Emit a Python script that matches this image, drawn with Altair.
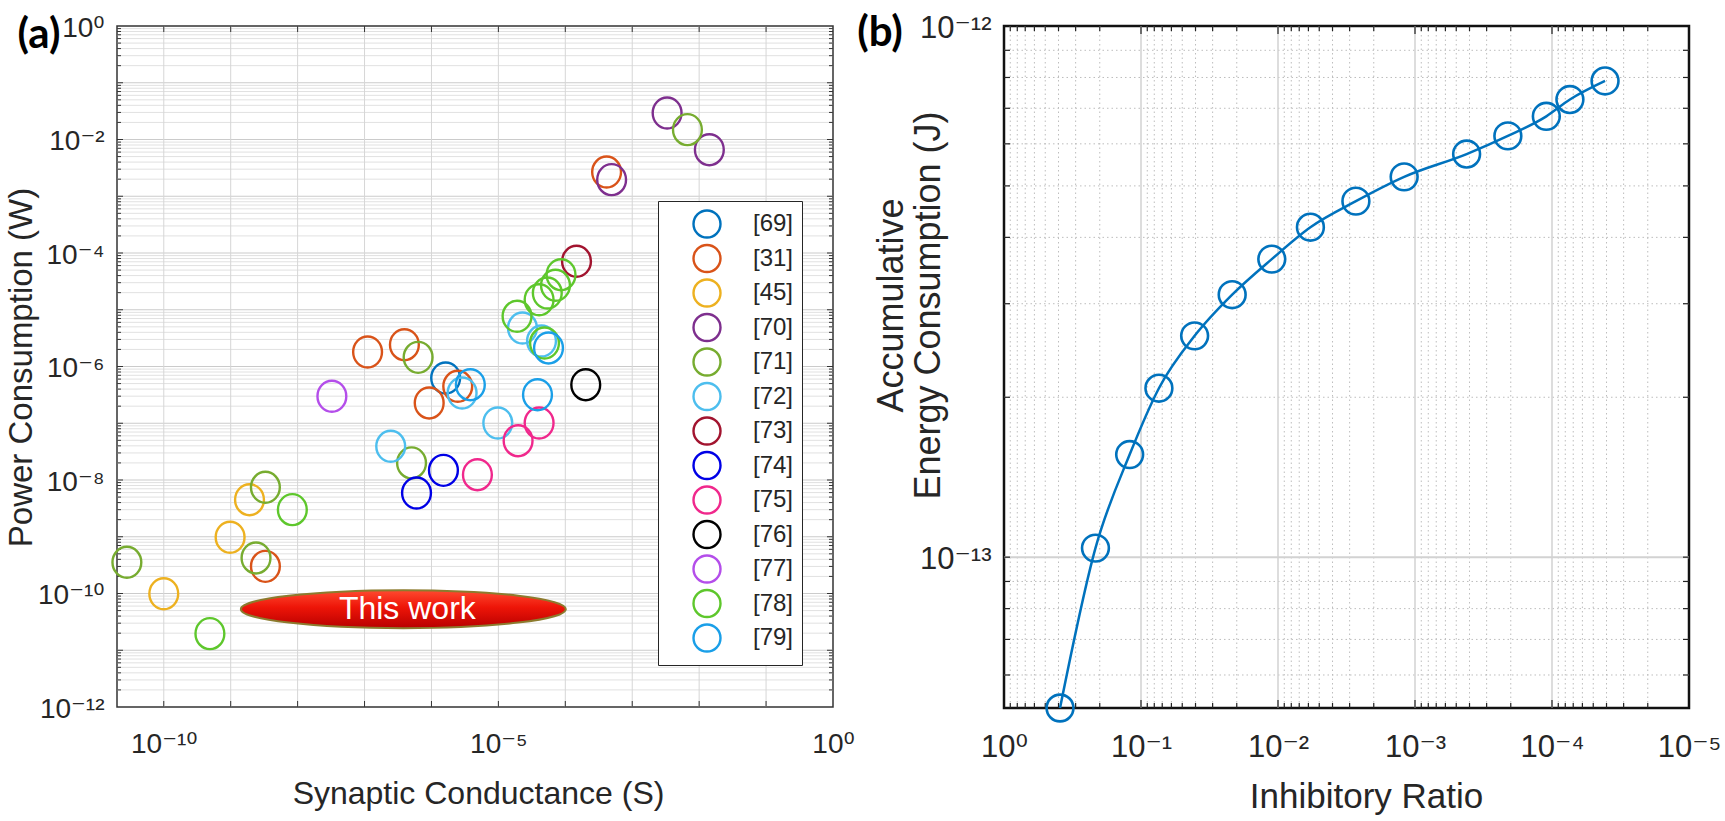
import altair as alt
import pandas as pd

FONT = "Liberation Sans, Arial, DejaVu Sans"
TXT = "#262626"

# ---------------- Panel (a) data ----------------
refs = ["[69]", "[31]", "[45]", "[70]", "[71]", "[72]", "[73]", "[74]",
        "[75]", "[76]", "[77]", "[78]", "[79]"]
ref_colors = ["#0072BD", "#D95319", "#EDB120", "#7E2F8E", "#77AC30", "#4DBEEE",
              "#A2142F", "#0000E6", "#F0288C", "#000000", "#B44EEA", "#5EC72C", "#1A9FE8"]

point_ref = ["[69]",
             "[31]", "[31]", "[31]", "[31]", "[31]", "[31]",
             "[45]", "[45]", "[45]",
             "[70]", "[70]", "[70]",
             "[71]", "[71]", "[71]", "[71]", "[71]", "[71]",
             "[72]", "[72]", "[72]", "[72]", "[72]",
             "[73]",
             "[74]", "[74]",
             "[75]", "[75]", "[75]",
             "[76]",
             "[77]",
             "[78]", "[78]", "[78]", "[78]", "[78]", "[78]", "[78]", "[78]",
             "[79]", "[79]", "[79]"]
conductance = [1.63e-6,
               4.14e-4, 1.11e-7, 3.94e-7, 2.47e-6, 9.25e-7, 3.30e-9,
               1.91e-9, 9.8e-10, 1.0e-10,
               3.32e-3, 1.42e-2, 4.92e-4,
               6.68e-3, 6.32e-7, 5.04e-7, 3.30e-9, 2.39e-9, 2.81e-11,
               2.29e-5, 4.41e-5, 2.87e-6, 9.8e-6, 2.46e-7,
               1.47e-4,
               1.51e-6, 5.98e-7,
               4.06e-5, 1.97e-5, 4.86e-6,
               2.02e-4,
               3.25e-8,
               8.63e-5, 7.13e-5, 5.38e-5, 4.06e-5, 1.90e-5, 4.89e-5, 8.34e-9, 4.89e-10,
               3.81e-6, 5.61e-5, 3.84e-5]
power = [6.27e-7,
         2.67e-3, 1.80e-6, 2.42e-6, 4.48e-7, 2.28e-7, 3.01e-10,
         4.50e-9, 9.8e-10, 9.9e-11,
         2.93e-2, 6.61e-3, 1.96e-3,
         1.49e-2, 1.45e-6, 2.0e-8, 7.43e-9, 4.23e-10, 3.55e-10,
         4.76e-6, 2.81e-6, 3.41e-7, 1.01e-7, 3.93e-8,
         7.14e-5,
         1.48e-8, 5.90e-9,
         1.01e-7, 4.93e-8, 1.24e-8,
         4.78e-7,
         2.99e-7,
         4.15e-5, 2.70e-5, 1.97e-5, 1.50e-5, 7.67e-6, 2.59e-6, 3.00e-9, 1.96e-11,
         4.78e-7, 2.12e-6, 3.18e-7]

this_work_label = ["This work"]
this_work_G = [3.8e-7]
this_work_P = [5.3e-11]

# axis tick / grid values of panel (a)
A_x_domain = [2.0e-11, 1.0]
A_y_domain = [1e-12, 1.0]
A_x_label_vals = [1e-10, 1e-5, 1.0]
A_y_label_vals = [1.0, 1e-2, 1e-4, 1e-6, 1e-8, 1e-10, 1e-12]
A_x_decades = [10.0 ** e for e in range(-10, 1)]
A_y_decades = [10.0 ** e for e in range(-12, 1)]
A_y_minor = [m * 10.0 ** e for e in range(-12, 0) for m in range(2, 10)]

# ---------------- Panel (b) data ----------------
inhibitory_ratio = [0.39, 0.215, 0.121, 0.074, 0.0406, 0.0216, 0.0111, 0.0058,
                    0.0027, 0.0012, 4.2e-4, 2.1e-4, 1.1e-4, 7.4e-5, 4.1e-5]
energy = [5.2e-14, 1.04e-13, 1.56e-13, 2.08e-13, 2.61e-13, 3.12e-13, 3.64e-13,
          4.18e-13, 4.68e-13, 5.2e-13, 5.74e-13, 6.21e-13, 6.76e-13, 7.27e-13, 7.88e-13]

B_x_domain = [1e-5, 1.0]
B_y_domain = [5.2e-14, 1e-12]
B_x_label_vals = [1.0, 1e-1, 1e-2, 1e-3, 1e-4, 1e-5]
B_y_label_vals = [1e-13, 1e-12]
B_x_decades = [10.0 ** e for e in range(-5, 1)]
B_x_minor = [m * 10.0 ** e for e in range(-5, 0) for m in range(2, 10)]
B_y_major = [1e-13, 1e-12]
B_y_minor = [6e-14, 7e-14, 8e-14, 9e-14] + [m * 1e-13 for m in range(2, 10)]

# ---------------- helpers ----------------
SUP = "['\u2070','\u00b9','\u00b2','\u00b3','\u2074','\u2075','\u2076','\u2077','\u2078','\u2079']"
EXP = "round(log(datum.value)/LN10)"
POW_LABEL = ("'10' + (" + EXP + " < 0 ? '\u207b' : '') + (abs(" + EXP + ") >= 10 ? "
             + SUP + "[floor(abs(" + EXP + ")/10)] : '') + " + SUP + "[abs(" + EXP + ") % 10]")

ELLIPSE = "M -0.93 0 A 0.93 1 0 1 1 0.93 0 A 0.93 1 0 1 1 -0.93 0 Z"
FLAT_ELLIPSE = "M -1 0 A 1 0.117 0 1 1 1 0 A 1 0.117 0 1 1 -1 0 Z"


def vals(v):
    return pd.DataFrame({"v": v})


# helper layers leave the axis unspecified so the explicit axis of the data layer wins
def hrules(values, scale, **kw):
    return alt.Chart(vals(values)).mark_rule(**kw).encode(y=alt.Y("v:Q", scale=scale))


def vrules(values, scale, **kw):
    return alt.Chart(vals(values)).mark_rule(**kw).encode(x=alt.X("v:Q", scale=scale))


def yticks(values, scale, x0, x1, **kw):
    return alt.Chart(vals(values)).mark_rule(**kw).encode(
        y=alt.Y("v:Q", scale=scale), x=alt.value(x0), x2=alt.value(x1))


def xticks(values, scale, y0, y1, **kw):
    return alt.Chart(vals(values)).mark_rule(**kw).encode(
        x=alt.X("v:Q", scale=scale), y=alt.value(y0), y2=alt.value(y1))


# ---------------- Panel (a) ----------------
WA, HA = 716, 681
xA = alt.Scale(type="log", domain=A_x_domain, nice=False)
yA = alt.Scale(type="log", domain=A_y_domain, nice=False)

dfA = pd.DataFrame({"ref": point_ref, "G": conductance, "P": power})
dfTW = pd.DataFrame({"label": this_work_label, "G": this_work_G, "P": this_work_P})

inner_y_dec = [v for v in A_y_decades if 1e-12 < v < 1.0]
inner_x_dec = [v for v in A_x_decades if v < 1.0]

axisAx = alt.Axis(
    values=A_x_label_vals, labelExpr=POW_LABEL, title="Synaptic Conductance (S)",
    ticks=False, tickSize=0, domain=False, grid=False, labelFont=FONT,
    labelFontSize=28, labelColor=TXT, labelPadding=23, labelFlush=False,
    labelOverlap=False, titleFont=FONT, titleFontSize=32, titleFontWeight="normal",
    titleColor=TXT, titleX=361, titleY=86, titleAlign="center", titleBaseline="middle")
axisAy = alt.Axis(
    values=A_y_label_vals, labelExpr=POW_LABEL, title="Power Consumption (W)",
    ticks=False, tickSize=0, domain=False, grid=False, labelFont=FONT,
    labelFontSize=28, labelColor=TXT, labelPadding=13, labelFlush=False,
    labelOverlap=False, labelOffset=2, titleFont=FONT, titleFontSize=33,
    titleFontWeight="normal", titleColor=TXT, titleX=-96, titleY=341, titleAngle=270,
    titleAlign="center", titleBaseline="middle")

pointsA = alt.Chart(dfA).mark_point(
    shape=ELLIPSE, size=961, strokeWidth=2.4, filled=False, opacity=1
).encode(
    x=alt.X("G:Q", scale=xA, axis=axisAx),
    y=alt.Y("P:Q", scale=yA, axis=axisAy),
    stroke=alt.Stroke("ref:N", scale=alt.Scale(domain=refs, range=ref_colors),
                      legend=alt.Legend(
                          title=None, orient="none", legendX=541, legendY=175,
                          direction="vertical", symbolType="circle", symbolSize=729,
                          symbolStrokeWidth=2.4, labelFont=FONT, labelFontSize=24,
                          labelColor=TXT, padding=8, rowPadding=-3.5, symbolOffset=26,
                          labelOffset=31, strokeColor="#262626", fillColor="white")),
)

gridA = [
    hrules(A_y_minor, yA, color="#E1E1E1", strokeWidth=1),
    hrules(inner_y_dec, yA, color="#CBCBCB", strokeWidth=1),
    vrules(inner_x_dec, xA, color="#D6D6D6", strokeWidth=1),
]

ellipseTW = alt.Chart(dfTW).mark_point(
    shape=FLAT_ELLIPSE, size=105625, filled=True, opacity=1,
    fill=alt.LinearGradient(gradient="linear", x1=0, x2=0, y1=0, y2=1, stops=[
        alt.GradientStop(color="#FF4A30", offset=0),
        alt.GradientStop(color="#EE1508", offset=0.45),
        alt.GradientStop(color="#B80000", offset=1)]),
    stroke="#8C7B2E", strokeWidth=2,
).encode(x=alt.X("G:Q", scale=xA), y=alt.Y("P:Q", scale=yA))

textTW = alt.Chart(dfTW).mark_text(
    font=FONT, fontSize=32, color="white", align="center", baseline="middle", dx=4
).encode(x=alt.X("G:Q", scale=xA), y=alt.Y("P:Q", scale=yA), text="label:N")

ticksA = [
    yticks(inner_y_dec, yA, 0, 6, color="#333333", strokeWidth=1),
    yticks(A_y_minor, yA, 0, 4, color="#333333", strokeWidth=1),
    yticks(inner_y_dec, yA, WA - 6, WA, color="#333333", strokeWidth=1),
    yticks(A_y_minor, yA, WA - 4, WA, color="#333333", strokeWidth=1),
    xticks(inner_x_dec, xA, HA - 6, HA, color="#333333", strokeWidth=1),
    xticks(inner_x_dec, xA, 0, 6, color="#333333", strokeWidth=1),
]

labelA = alt.Chart(pd.DataFrame({"t": ["(a)"]})).mark_text(
    font="Lato, Open Sans", fontSize=42, fontWeight="bold", color="black",
    align="center", baseline="middle"
).encode(x=alt.value(-78), y=alt.value(9), text="t:N")

panelA = alt.layer(*gridA, *ticksA, ellipseTW, textTW, pointsA, labelA).properties(
    width=WA, height=HA, view=alt.ViewBackground(stroke="#333333", strokeWidth=1.5))

# ---------------- Panel (b) ----------------
WB, HB = 685, 682
xB = alt.Scale(type="log", domain=B_x_domain, reverse=True, nice=False)
yB = alt.Scale(type="log", domain=B_y_domain, nice=False)
dfB = pd.DataFrame({"r": inhibitory_ratio, "E": energy})

inner_xB = [v for v in B_x_decades if 1e-5 < v < 1.0]
inner_yB = [v for v in B_y_major if v < 1e-12]

axisBx = alt.Axis(
    values=B_x_label_vals, labelExpr=POW_LABEL, title="Inhibitory Ratio",
    ticks=False, tickSize=0, domain=False, grid=False, labelFont=FONT,
    labelFontSize=31, labelColor=TXT, labelPadding=24, labelFlush=False,
    labelOverlap=False, titleFont=FONT, titleFontSize=35, titleFontWeight="normal",
    titleColor=TXT, titleX=362, titleY=88, titleAlign="center", titleBaseline="middle")
axisBy = alt.Axis(
    values=B_y_label_vals, labelExpr=POW_LABEL,
    title=["Accumulative", "Energy Consumption (J)"],
    ticks=False, tickSize=0, domain=False, grid=False, labelFont=FONT,
    labelFontSize=31, labelColor=TXT, labelPadding=13, labelFlush=False,
    labelOverlap=False, labelOffset=2, titleFont=FONT, titleFontSize=36,
    titleFontWeight="normal", titleColor=TXT, titleX=-113, titleY=279, titleAngle=270,
    titleAlign="center", titleBaseline="middle", titleLineHeight=37)

lineB = alt.Chart(dfB).mark_line(color="#0072BD", strokeWidth=2.5, interpolate="monotone").encode(
    x=alt.X("r:Q", scale=xB, axis=axisBx),
    y=alt.Y("E:Q", scale=yB, axis=axisBy),
)

gridB = [
    vrules(B_x_minor, xB, color="#BDBDBD", strokeWidth=1, strokeDash=[1.5, 3]),
    hrules(B_y_minor, yB, color="#BDBDBD", strokeWidth=1, strokeDash=[1.5, 3]),
    vrules(inner_xB, xB, color="#D2D2D2", strokeWidth=1.5),
    hrules(inner_yB, yB, color="#D2D2D2", strokeWidth=2),
]

ticksB = [
    xticks(inner_xB, xB, HB - 8, HB, color="#222222", strokeWidth=1.2),
    xticks(B_x_minor, xB, HB - 5, HB, color="#222222", strokeWidth=1.2),
    xticks(inner_xB, xB, 0, 8, color="#222222", strokeWidth=1.2),
    xticks(B_x_minor, xB, 0, 5, color="#222222", strokeWidth=1.2),
    yticks(inner_yB + B_y_minor, yB, 0, 6, color="#222222", strokeWidth=1.2),
    yticks(inner_yB + B_y_minor, yB, WB - 6, WB, color="#222222", strokeWidth=1.2),
]

pointsB = alt.Chart(dfB).mark_point(
    shape="circle", size=720, strokeWidth=2.6, filled=False, color="#0072BD", opacity=1
).encode(x=alt.X("r:Q", scale=xB), y=alt.Y("E:Q", scale=yB))

labelB = alt.Chart(pd.DataFrame({"t": ["(b)"]})).mark_text(
    font="Lato, Open Sans", fontSize=42, fontWeight="bold", color="black",
    align="center", baseline="middle"
).encode(x=alt.value(-124), y=alt.value(7), text="t:N")

panelB = alt.layer(*gridB, *ticksB, lineB, pointsB, labelB).properties(
    width=WB, height=HB, view=alt.ViewBackground(stroke="#111111", strokeWidth=2.5))

chart = alt.hconcat(panelA, panelB, spacing=171, bounds="flush").properties(
    padding={"left": 4, "top": 10, "right": 0, "bottom": 0},
    background="white",
).configure_view(stroke="#333333")

chart.save("out.html", embed_options={"renderer": "svg", "actions": False})
